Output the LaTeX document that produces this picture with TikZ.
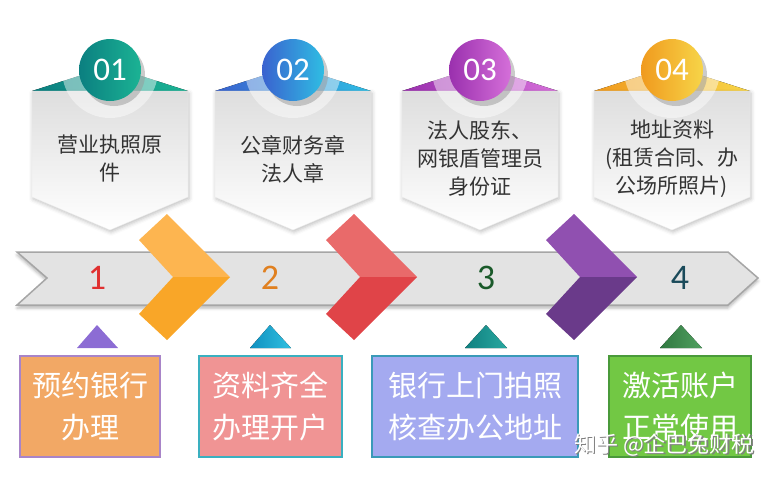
\documentclass[tikz,border=0pt]{standalone}
\usepackage{fontspec}
\setmainfont{Noto Sans CJK SC}
\newfontfamily\numfont{Carlito}
\usetikzlibrary{shadows.blur}
\definecolor{tealA}{HTML}{0B7F80}
\definecolor{tealB}{HTML}{1BB394}
\definecolor{blueA}{HTML}{3A62CF}
\definecolor{blueB}{HTML}{2FBDE3}
\definecolor{purpA}{HTML}{9A30AE}
\definecolor{purpB}{HTML}{D56FD9}
\definecolor{goldA}{HTML}{F09A1E}
\definecolor{goldB}{HTML}{F7D548}
\definecolor{boxOrange}{HTML}{F2A865}
\definecolor{boxSalmon}{HTML}{F09494}
\definecolor{boxLilac}{HTML}{A4AAF0}
\definecolor{boxGreen}{HTML}{72C844}

\begin{document}
\begin{tikzpicture}[x=1pt, y=-1pt,
  card/.style={top color=black!13, bottom color=white, draw=black!8,
    blur shadow={shadow xshift=1pt, shadow yshift=-2pt, shadow blur radius=4pt, shadow opacity=25}},
  halo/.style={fill=white, fill opacity=0.45},
  ballshade/.style={fill=black!40, fill opacity=0.5},
  ball/.style={circle, minimum size=62pt, inner sep=0pt, text=white, font=\numfont\fontsize{33}{33}\selectfont},
  cardtext/.style={align=center, text=black!80, font=\fontsize{21}{28}\selectfont},
  band/.style={fill=black!11, draw=black!35, line width=1.5pt,
    blur shadow={shadow xshift=0pt, shadow yshift=-3pt, shadow blur radius=3pt, shadow opacity=30}},
  stepnum/.style={font=\numfont\fontsize{36}{36}\selectfont},
  stepbox/.style={align=center, inner sep=0pt, minimum height=101pt, line width=1.5pt, text=white, font=\fontsize{29}{42}\selectfont},
  pointer/.style={draw=none}
]
\useasboundingbox (0,0) rectangle (778,477);

% cards on top
\fill[left color=tealA, right color=tealB] (32,91) -- (110,66) -- (188,91) -- cycle;
\draw[card] (32,91) -- (188,91) -- (188,197) -- (110,230) -- (32,197) -- cycle;
\fill[halo] (110,70) circle (48);
\fill[ballshade] (114,75) circle (31);
\node[ball, left color=tealA, right color=tealB] (c1) at (110,70) {01};
\node[cardtext] (t1) at (110,159) {营业执照原\\件};

\fill[left color=blueA, right color=blueB] (215,91) -- (293,66) -- (371,91) -- cycle;
\draw[card] (215,91) -- (371,91) -- (371,197) -- (293,230) -- (215,197) -- cycle;
\fill[halo] (293,70) circle (48);
\fill[ballshade] (297,75) circle (31);
\node[ball, left color=blueA, right color=blueB] (c2) at (293,70) {02};
\node[cardtext] (t2) at (293,159) {公章财务章\\法人章};

\fill[left color=purpA, right color=purpB] (402,91) -- (480,66) -- (558,91) -- cycle;
\draw[card] (402,91) -- (558,91) -- (558,197) -- (480,230) -- (402,197) -- cycle;
\fill[halo] (480,70) circle (48);
\fill[ballshade] (484,75) circle (31);
\node[ball, left color=purpA, right color=purpB] (c3) at (480,70) {03};
\node[cardtext] (t3) at (480,159) {法人股东、\\网银盾管理员\\身份证};

\fill[left color=goldA, right color=goldB] (594,91) -- (672,66) -- (750,91) -- cycle;
\draw[card] (594,91) -- (750,91) -- (750,197) -- (672,230) -- (594,197) -- cycle;
\fill[halo] (672,70) circle (48);
\fill[ballshade] (676,75) circle (31);
\node[ball, left color=goldA, right color=goldB] (c4) at (672,70) {04};
\node[cardtext] (t4) at (672,159) {地址资料\\(租赁合同、办\\公场所照片)};

% timeline band
\draw[band] (17,252) -- (728,252) -- (758,278) -- (728,305) -- (17,305) -- (47,278) -- cycle;

% chevrons
\fill[color={rgb,255:red,253;green,181;blue,80}] (139,240) -- (167,214) -- (230,277) -- (173,277) -- cycle;
\fill[color={rgb,255:red,249;green,166;blue,40}] (173,277) -- (230,277) -- (167,340) -- (139,314) -- cycle;
\fill[color={rgb,255:red,233;green,106;blue,106}] (326,240) -- (354,214) -- (417,277) -- (360,277) -- cycle;
\fill[color={rgb,255:red,224;green,68;blue,72}] (360,277) -- (417,277) -- (354,340) -- (326,314) -- cycle;
\fill[color={rgb,255:red,144;green,80;blue,176}] (546,240) -- (574,214) -- (637,277) -- (580,277) -- cycle;
\fill[color={rgb,255:red,106;green,58;blue,138}] (580,277) -- (637,277) -- (574,340) -- (546,314) -- cycle;

\node[stepnum, text={rgb,255:red,224;green,48;blue,48}] (n1) at (97,278) {1};
\node[stepnum, text={rgb,255:red,224;green,128;blue,32}] (n2) at (270,278) {2};
\node[stepnum, text={rgb,255:red,26;green,90;blue,42}] (n3) at (486,278) {3};
\node[stepnum, text={rgb,255:red,26;green,74;blue,90}] (n4) at (680,278) {4};

% pointers under the band
\fill[color={rgb,255:red,140;green,108;blue,212}] (77,348) -- (97,325) -- (118,348) -- cycle;
\fill[left color={rgb,255:red,16;green,144;blue,192}, right color={rgb,255:red,48;green,192;blue,224}] (250,348) -- (270,325) -- (291,348) -- cycle;
\fill[left color={rgb,255:red,16;green,128;blue,128}, right color={rgb,255:red,40;green,168;blue,160}] (465,348) -- (486,325) -- (507,348) -- cycle;
\fill[left color={rgb,255:red,48;green,120;blue,64}, right color={rgb,255:red,80;green,160;blue,96}] (660,348) -- (681,325) -- (702,348) -- cycle;

% step boxes
\node[stepbox, fill=boxOrange, draw={rgb,255:red,168;green,132;blue,200}, minimum width=140pt] (b1) at (90,406.5) {预约银行\\办理};
\node[stepbox, fill=boxSalmon, draw={rgb,255:red,58;green,176;blue,192}, minimum width=143pt] (b2) at (270.5,406.5) {资料齐全\\办理开户};
\node[stepbox, fill=boxLilac, draw={rgb,255:red,58;green,154;blue,184}, minimum width=206pt] (b3) at (475,406.5) {银行上门拍照\\核查办公地址};
\node[stepbox, fill=boxGreen, draw={rgb,255:red,74;green,154;blue,58}, minimum width=142pt] (b4) at (680,406.5) {激活账户\\正常使用};

% watermark
\node[text=black!50, font=\fontsize{22}{22}\selectfont] (wmshade) at (665.2,446.2) {知乎 @企巴兔财税};
\node[text=white, font=\fontsize{22}{22}\selectfont] (wm) at (664,445) {知乎 @企巴兔财税};
\end{tikzpicture}
\end{document}
